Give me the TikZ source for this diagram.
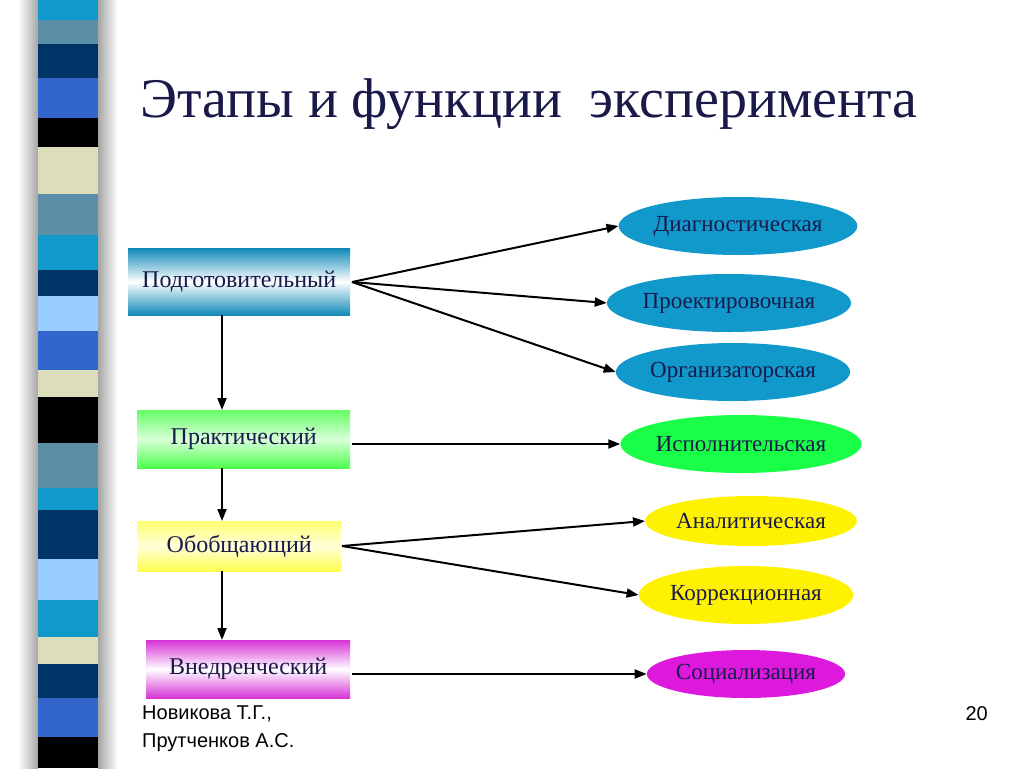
\documentclass[tikz,border=0pt]{standalone}
\usepackage{fontspec}
\setmainfont{Liberation Serif}
\newfontfamily\sansf{Liberation Sans}
\usetikzlibrary{shapes.geometric,arrows.meta}
\definecolor{tcol}{HTML}{1A1A4A}
\definecolor{cyanS}{HTML}{1199CC}
\definecolor{steelS}{HTML}{5B8FA8}
\definecolor{navyS}{HTML}{003366}
\definecolor{blueS}{HTML}{3366CC}
\definecolor{beigeS}{HTML}{DDDDBB}
\definecolor{lbS}{HTML}{99CCFF}
\begin{document}
\begin{tikzpicture}[x=1pt,y=-1pt,
  stage/.style={minimum height=#1, inner sep=0pt, text=tcol, font=\fontsize{24}{26}\selectfont, anchor=north west},
  func/.style={ellipse, minimum height=58, inner sep=0pt, text=tcol, font=\fontsize{23}{25}\selectfont},
  arr/.style={-{Triangle[length=12pt,width=9pt]}, line width=2pt}]
\useasboundingbox (0,0) rectangle (1024,768);
\fill[white] (0,0) rectangle (1024,768);
% shadow of stripe
\shade[left color=white, right color=black!35] (18,0) rectangle (38,768);
\shade[left color=black!35, right color=white] (98,0) rectangle (118,768);
% stripes
\foreach \a/\b/\c in {0/20/cyanS,20/44/steelS,44/78/navyS,78/118/blueS,118/147/black,147/194/beigeS,194/235/steelS,235/270/cyanS,270/296/navyS,296/331/lbS,331/370/blueS,370/397/beigeS,397/443/black,443/488/steelS,488/510/cyanS,510/559/navyS,559/600/lbS,600/637/cyanS,637/664/beigeS,664/698/navyS,698/737/blueS,737/768/black}
  \fill[\c] (38,\a) rectangle (98,\b);
% title
\node[anchor=base west, text=tcol, font=\fontsize{56}{60}\selectfont, inner sep=0pt] (title) at (140,117) {Этапы и функции\ \ эксперимента};
% stages
\node[stage=67, minimum width=222, top color=cyanS!90!black, bottom color=cyanS!90!black, middle color=white] (s1) at (128,248) {Подготовительный};
\node[stage=58, minimum width=213, top color=green!60, bottom color=green!70, middle color=green!15] (s2) at (137,410) {Практический};
\node[stage=50, minimum width=204, top color=yellow!55, bottom color=yellow!70, middle color=yellow!15] (s3) at (137,521) {Обобщающий};
\node[stage=58, minimum width=204, top color=violet!40!magenta!80, bottom color=violet!40!magenta!80, middle color=white] (s4) at (146,640) {Внедренческий};
% functions
\node[func, minimum width=230, fill=cyanS] (f1) at (738,226) {Диагностическая};
\node[func, minimum width=212, fill=cyanS] (f2) at (729,303) {Проектировочная};
\node[func, minimum width=205, fill=cyanS] (f3) at (733,372) {Организаторская};
\node[func, minimum width=205, fill=green!80!cyan!90] (f4) at (741,444) {Исполнительская};
\node[func, minimum width=205, minimum height=50, fill=yellow] (f5) at (751,521) {Аналитическая};
\node[func, minimum width=200, fill=yellow] (f6) at (746,595) {Коррекционная};
\node[func, minimum width=195, minimum height=48, fill=violet!30!magenta!90] (f7) at (746,674) {Социализация};
% connectors
\coordinate (o1) at (352,282);
\coordinate (o3) at (342,546);
\coordinate (o2) at (352,444);
\coordinate (o4) at (352,674);
\draw[arr] (o1) -- (f1.west);
\draw[arr] (o1) -- (f2.west);
\draw[arr] (o1) -- (f3.west);
\draw[arr] (o2) -- (f4.west);
\draw[arr] (o3) -- (f5.west);
\draw[arr] (o3) -- (f6.west);
\draw[arr] (o4) -- (f7.west);
\draw[arr] (s1.south -| 222,0) -- (s2.north -| 222,0);
\draw[arr] (s2.south -| 222,0) -- (s3.north -| 222,0);
\draw[arr] (s3.south -| 222,0) -- (s4.north -| 222,0);
% footer
\node[anchor=north west, align=left, font=\sansf\fontsize{20}{28}\selectfont, inner sep=0pt] (author) at (142,706) {Новикова Т.Г.,\\Прутченков А.С.};
\node[anchor=north east, font=\sansf\fontsize{20}{22}\selectfont, inner sep=0pt] (page) at (988,706) {20};
\end{tikzpicture}
\end{document}
